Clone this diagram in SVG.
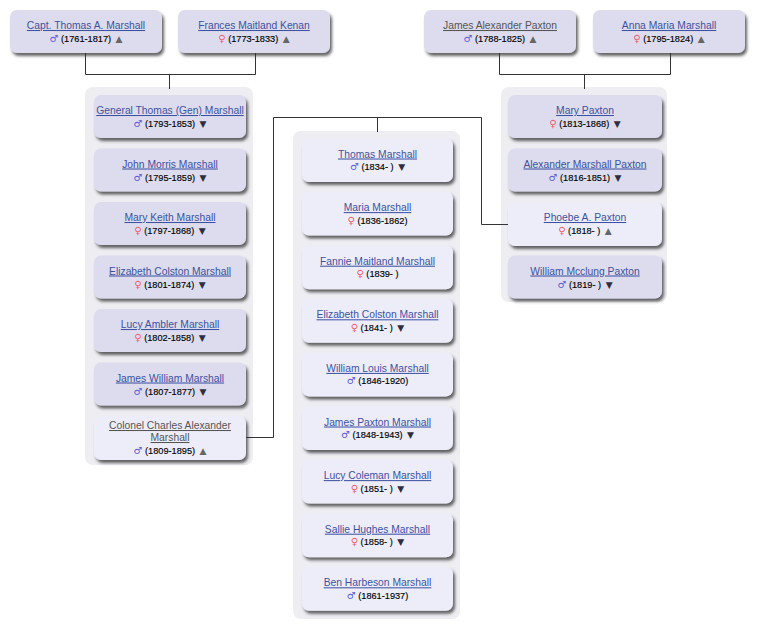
<svg xmlns="http://www.w3.org/2000/svg" width="768" height="639" viewBox="0 0 768 639">
<defs>
<filter id="sh" x="-10%" y="-20%" width="130%" height="150%">
<feDropShadow dx="2" dy="3" stdDeviation="1.6" flood-color="#333" flood-opacity="0.75"/>
</filter>
</defs>
<style>
.bg{fill:#ffffff}
.cont{fill:#ededf2}
.box{fill:#dcdcee;filter:url(#sh)}
.lt{fill:#ededfa;filter:url(#sh)}
.nm{font-family:"Liberation Sans",Arial,sans-serif;font-size:10.3px;fill:#3d52a1;text-decoration:underline;text-anchor:middle}
.nm.v{fill:#555}
.dt{font-family:"Liberation Sans",Arial,sans-serif;font-size:9.2px;fill:#000;stroke:#000;stroke-width:0.15;text-anchor:middle}
.m{fill:#5a5ad6;stroke:none;font-family:"DejaVu Sans",sans-serif;font-size:10px}
.f{fill:#f0606e;stroke:none;font-family:"DejaVu Sans",sans-serif;font-size:10px}
.up{fill:#666;stroke:none;font-family:"DejaVu Sans",sans-serif;font-size:9px}
.dn{fill:#2e2e40;stroke:none;font-family:"DejaVu Sans",sans-serif;font-size:9px}
.ln{fill:none;stroke:#333;stroke-width:1}
</style>
<rect class="bg" x="0" y="0" width="768" height="639"/>
<g id="containers">
<rect class="cont" x="85" y="87" width="168" height="378" rx="8"/>
<rect class="cont" x="293" y="131" width="167" height="488" rx="8"/>
<rect class="cont" x="501" y="87" width="166" height="215" rx="8"/>
</g>
<g id="connectors">
<path class="ln" d="M85.5 53V74.5H255.5V53M169.5 74.5V89"/>
<path class="ln" d="M499.5 53V74.5H670.5V53M584.5 74.5V89"/>
<path class="ln" d="M246 437.5H273.5V117.5H481.5V224.5H508M377.5 117.5V132"/>
</g>
<g id="n-capt"><rect class="box" x="10" y="10" width="152" height="43" rx="7"/><text class="nm" x="86" y="29">Capt. Thomas A. Marshall</text><text class="dt" x="86" y="42"><tspan class="m">♂</tspan> (1761-1817) <tspan class="up" dx="2">▲</tspan></text></g>
<g id="n-frances"><rect class="box" x="178" y="10" width="152" height="43" rx="7"/><text class="nm" x="254" y="29">Frances Maitland Kenan</text><text class="dt" x="254" y="42"><tspan class="f">♀</tspan> (1773-1833) <tspan class="up" dx="2">▲</tspan></text></g>
<g id="n-jamesap"><rect class="box" x="424" y="10" width="152" height="43" rx="7"/><text class="nm v" x="500" y="29">James Alexander Paxton</text><text class="dt" x="500" y="42"><tspan class="m">♂</tspan> (1788-1825) <tspan class="up" dx="2">▲</tspan></text></g>
<g id="n-anna"><rect class="box" x="593" y="10" width="152" height="43" rx="7"/><text class="nm" x="669" y="29">Anna Maria Marshall</text><text class="dt" x="669" y="42"><tspan class="f">♀</tspan> (1795-1824) <tspan class="up" dx="2">▲</tspan></text></g>

<g id="n-general"><rect class="box" x="94" y="95" width="152" height="43" rx="7"/><text class="nm" x="170" y="114">General Thomas (Gen) Marshall</text><text class="dt" x="170" y="127"><tspan class="m">♂</tspan> (1793-1853) <tspan class="dn" dx="2">▼</tspan></text></g>
<g id="n-john"><rect class="box" x="94" y="148.5" width="152" height="43" rx="7"/><text class="nm" x="170" y="167.5">John Morris Marshall</text><text class="dt" x="170" y="180.5"><tspan class="m">♂</tspan> (1795-1859) <tspan class="dn" dx="2">▼</tspan></text></g>
<g id="n-marykeith"><rect class="box" x="94" y="202" width="152" height="43" rx="7"/><text class="nm" x="170" y="221">Mary Keith Marshall</text><text class="dt" x="170" y="234"><tspan class="f">♀</tspan> (1797-1868) <tspan class="dn" dx="2">▼</tspan></text></g>
<g id="n-elizabeth1"><rect class="box" x="94" y="255.5" width="152" height="43" rx="7"/><text class="nm" x="170" y="274.5">Elizabeth Colston Marshall</text><text class="dt" x="170" y="287.5"><tspan class="f">♀</tspan> (1801-1874) <tspan class="dn" dx="2">▼</tspan></text></g>
<g id="n-lucyambler"><rect class="box" x="94" y="309" width="152" height="43" rx="7"/><text class="nm" x="170" y="328">Lucy Ambler Marshall</text><text class="dt" x="170" y="341"><tspan class="f">♀</tspan> (1802-1858) <tspan class="dn" dx="2">▼</tspan></text></g>
<g id="n-jameswilliam"><rect class="box" x="94" y="362.5" width="152" height="43" rx="7"/><text class="nm" x="170" y="381.5">James William Marshall</text><text class="dt" x="170" y="394.5"><tspan class="m">♂</tspan> (1807-1877) <tspan class="dn" dx="2">▼</tspan></text></g>
<g id="n-colonel"><rect class="lt" x="94" y="416" width="152" height="44" rx="7"/><text class="nm v" x="170" y="429">Colonel Charles Alexander</text><text class="nm v" x="170" y="441">Marshall</text><text class="dt" x="170" y="453.5"><tspan class="m">♂</tspan> (1809-1895) <tspan class="up" dx="2">▲</tspan></text></g>

<g id="n-thomas"><rect class="lt" x="302" y="138" width="151" height="44" rx="7"/><text class="nm" x="377.5" y="157.5">Thomas Marshall</text><text class="dt" x="377.5" y="170"><tspan class="m">♂</tspan> (1834- ) <tspan class="dn" dx="2">▼</tspan></text></g>
<g id="n-maria"><rect class="lt" x="302" y="191.6" width="151" height="44" rx="7"/><text class="nm" x="377.5" y="211.1">Maria Marshall</text><text class="dt" x="377.5" y="223.6"><tspan class="f">♀</tspan> (1836-1862)</text></g>
<g id="n-fannie"><rect class="lt" x="302" y="245.2" width="151" height="44" rx="7"/><text class="nm" x="377.5" y="264.7">Fannie Maitland Marshall</text><text class="dt" x="377.5" y="277.2"><tspan class="f">♀</tspan> (1839- )</text></g>
<g id="n-elizabeth2"><rect class="lt" x="302" y="298.8" width="151" height="44" rx="7"/><text class="nm" x="377.5" y="318.3">Elizabeth Colston Marshall</text><text class="dt" x="377.5" y="330.8"><tspan class="f">♀</tspan> (1841- ) <tspan class="dn" dx="2">▼</tspan></text></g>
<g id="n-williamlouis"><rect class="lt" x="302" y="352.4" width="151" height="44" rx="7"/><text class="nm" x="377.5" y="371.9">William Louis Marshall</text><text class="dt" x="377.5" y="384.4"><tspan class="m">♂</tspan> (1846-1920)</text></g>
<g id="n-jamespaxton"><rect class="lt" x="302" y="406" width="151" height="44" rx="7"/><text class="nm" x="377.5" y="425.5">James Paxton Marshall</text><text class="dt" x="377.5" y="438"><tspan class="m">♂</tspan> (1848-1943) <tspan class="dn" dx="2">▼</tspan></text></g>
<g id="n-lucycoleman"><rect class="lt" x="302" y="459.6" width="151" height="44" rx="7"/><text class="nm" x="377.5" y="479.1">Lucy Coleman Marshall</text><text class="dt" x="377.5" y="491.6"><tspan class="f">♀</tspan> (1851- ) <tspan class="dn" dx="2">▼</tspan></text></g>
<g id="n-sallie"><rect class="lt" x="302" y="513.2" width="151" height="44" rx="7"/><text class="nm" x="377.5" y="532.7">Sallie Hughes Marshall</text><text class="dt" x="377.5" y="545.2"><tspan class="f">♀</tspan> (1858- ) <tspan class="dn" dx="2">▼</tspan></text></g>
<g id="n-ben"><rect class="lt" x="302" y="566.8" width="151" height="44" rx="7"/><text class="nm" x="377.5" y="586.3">Ben Harbeson Marshall</text><text class="dt" x="377.5" y="598.8"><tspan class="m">♂</tspan> (1861-1937)</text></g>

<g id="n-marypaxton"><rect class="box" x="508" y="95" width="154" height="43" rx="7"/><text class="nm" x="585" y="114">Mary Paxton</text><text class="dt" x="585" y="127"><tspan class="f">♀</tspan> (1813-1868) <tspan class="dn" dx="2">▼</tspan></text></g>
<g id="n-alexander"><rect class="box" x="508" y="148.5" width="154" height="43" rx="7"/><text class="nm" x="585" y="167.5">Alexander Marshall Paxton</text><text class="dt" x="585" y="180.5"><tspan class="m">♂</tspan> (1816-1851) <tspan class="dn" dx="2">▼</tspan></text></g>
<g id="n-phoebe"><rect class="lt" x="508" y="202" width="154" height="44" rx="7"/><text class="nm" x="585" y="221">Phoebe A. Paxton</text><text class="dt" x="585" y="234"><tspan class="f">♀</tspan> (1818- ) <tspan class="up" dx="2">▲</tspan></text></g>
<g id="n-williammcclung"><rect class="box" x="508" y="255.5" width="154" height="43" rx="7"/><text class="nm" x="585" y="274.5">William Mcclung Paxton</text><text class="dt" x="585" y="287.5"><tspan class="m">♂</tspan> (1819- ) <tspan class="dn" dx="2">▼</tspan></text></g>
</svg>
